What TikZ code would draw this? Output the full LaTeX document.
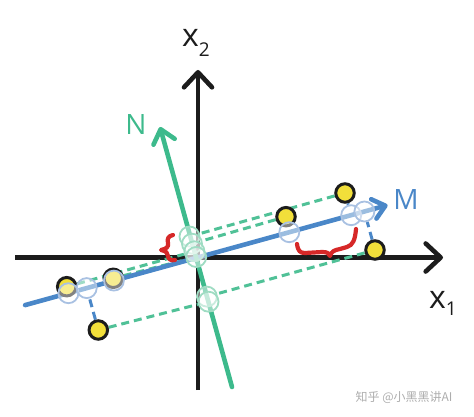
\documentclass[tikz,border=0pt]{standalone}
\usepackage{fontspec}
\setmainfont{Open Sans}
\newfontfamily\cjk{Noto Sans CJK SC}
\usetikzlibrary{arrows.meta,decorations.pathreplacing}
\definecolor{mblue}{HTML}{4A87C8}
\definecolor{ngreen}{HTML}{3DBA8C}
\definecolor{dyellow}{HTML}{F2DF3A}
\definecolor{axblack}{HTML}{1C1C1C}
\definecolor{pblue}{HTML}{A9C1E2}
\definecolor{pgreen}{HTML}{9FDCC3}
\definecolor{bred}{HTML}{D62828}
\pgfdeclarelayer{bg}
\pgfdeclarelayer{top}
\pgfsetlayers{bg,main,top}
\tikzset{
  dot/.style={circle, minimum size=18.5pt, inner sep=0pt, fill=dyellow, draw=axblack, line width=3pt},
  projm/.style={circle, minimum size=20pt, inner sep=0pt, draw=pblue, line width=1.8pt, fill=white, fill opacity=0.45},
  projn/.style={circle, minimum size=20pt, inner sep=0pt, draw=pgreen, line width=1.8pt, fill=white, fill opacity=0.45},
  axis/.style={line width=4.6pt, draw=axblack, -{Straight Barb[length=15pt,width=28pt,round]}},
  mline/.style={line width=4.6pt, draw=mblue, line cap=round, -{Straight Barb[length=12pt,width=20pt,round]}},
  nline/.style={line width=4.6pt, draw=ngreen, line cap=round, -{Straight Barb[length=13pt,width=22pt,round]}},
  gdash/.style={line width=3pt, draw=ngreen!90!white, dash pattern=on 8pt off 5pt},
  bdash/.style={line width=3pt, draw=mblue, dash pattern=on 8pt off 5pt},
  rbrace/.style={line width=4.2pt, draw=bred, line cap=round, line join=round},
  lbl/.style={inner sep=0pt, font=\fontsize{28}{28}\selectfont},
  xlbl/.style={inner sep=0pt, anchor=base west, font=\fontsize{32}{32}\selectfont, text=axblack},
}
\begin{document}
\begin{tikzpicture}[x=1pt,y=-1pt]
\useasboundingbox (0,0) rectangle (474,417);
% axes end points
\coordinate (xl) at (15,257.5);
\coordinate (xr) at (443,257.5);
\coordinate (yb) at (198,390);
\coordinate (yt) at (198,70);
\coordinate (ms) at (25.1,305.1);
\coordinate (me) at (387.6,205.1);
\coordinate (nb) at (232,387);
\coordinate (nt) at (160,127);
% data points
\node[dot] (p1) at (345,193) {};
\node[dot] (p2) at (286,216.7) {};
\node[dot] (p3) at (375,250) {};
\node[dot] (p4) at (66.7,286.7) {};
\node[dot] (p5) at (113.3,278.3) {};
\node[dot] (p6) at (98.3,330) {};
\begin{pgfonlayer}{top}
% projections on M
\node[projm] (m1) at (351.2,215.2) {};
\node[projm] (m2) at (289.3,232.2) {};
\node[projm] (m3) at (364.4,211.5) {};
\node[projm] (m4) at (68.4,293.2) {};
\node[projm] (m5) at (113.9,280.6) {};
\node[projm] (m6) at (86.7,288.1) {};
% projections on N
\node[projn] (n1) at (189.5,236.5) {};
\node[projn] (n2) at (192.0,243.7) {};
\node[projn] (n3) at (206.9,296.6) {};
\node[projn] (n4) at (194.4,251.3) {};
\node[projn] (n5) at (196.2,257.0) {};
\node[projn] (n6) at (208.5,301.7) {};
\end{pgfonlayer}
\begin{pgfonlayer}{bg}
\draw[axis] (xl) -- (xr);
\draw[axis] (yb) -- (yt);
\draw[gdash] (p1) -- (n1);
\draw[gdash] (p2) -- (n2);
\draw[gdash] (p3) -- (n3);
\draw[gdash] (p4) -- (n4);
\draw[gdash] (p5) -- (n5);
\draw[gdash] (p6) -- (n6);
\draw[bdash] (p1) -- (m1);
\draw[bdash] (p3) -- (m3);
\draw[bdash] (p6) -- (m6);
\draw[mline] (ms) -- (me);
\draw[nline] (nb) -- (nt);
% large brace (spread along M)
\draw[rbrace] (297,244) .. controls (298,251) and (300,253) .. (305,253) -- (322,252)
  .. controls (327,252) and (329,253) .. (330,256)
  .. controls (331,252) and (334,250) .. (340,249) -- (347,247)
  .. controls (353,245) and (355,240) .. (356,229);
% small brace (spread along N)
\draw[rbrace] (173,235) .. controls (168,236) and (167,239) .. (168,243)
  .. controls (169,247) and (166,249) .. (161,250)
  .. controls (166,251) and (168,253) .. (168,256)
  .. controls (168,259) and (171,261) .. (175,260);
\end{pgfonlayer}
% labels
\node[xlbl] (lx2) at (182,47) {x\raisebox{-10pt}{\fontsize{19}{19}\selectfont 2}};
\node[xlbl] (lx1) at (429,308) {x\raisebox{-7pt}{\fontsize{19}{19}\selectfont 1}};
\node[lbl, text=mblue] (lm) at (406,200) {M};
\node[lbl, text=ngreen] (ln) at (136,125) {N};
\node[inner sep=0pt, text=black!32, font=\cjk\fontsize{12}{12}\selectfont] (wm) at (404,397) {知乎 @小黑黑讲AI};
\end{tikzpicture}
\end{document}
